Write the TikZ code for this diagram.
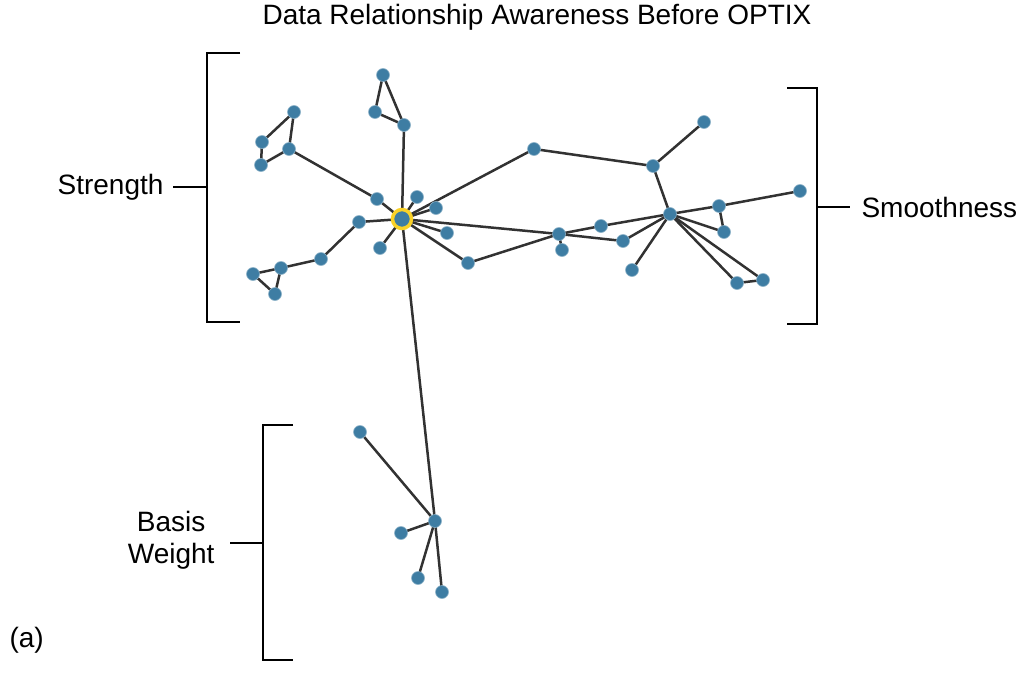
\documentclass[tikz,border=0pt]{standalone}
\usepackage{fontspec}
\setmainfont{Liberation Sans}
\begin{document}
\begin{tikzpicture}[x=1pt,y=-1pt,
  v/.style={circle,fill=dotc,draw=dotc!60,line width=0.6pt,inner sep=0pt,minimum size=13pt},
  hubs/.style={circle,fill=dotc,draw=hubring,line width=3.5pt,inner sep=0pt,minimum size=19pt},
  e/.style={draw=edgec,line width=2.5pt},
  br/.style={line width=2.5pt,black},
  lab/.style={font=\fontsize{28}{32}\selectfont,align=center}]
\definecolor{dotc}{RGB}{62,125,163}
\definecolor{hubring}{RGB}{250,210,40}
\definecolor{edgec}{RGB}{50,50,50}
\useasboundingbox (0,0) rectangle (1024,672);
\node[font=\fontsize{28}{32}\selectfont] (title) at (537,17) {Data Relationship Awareness Before OPTIX};
\node[anchor=west,font=\fontsize{28}{32}\selectfont] (a) at (6,640) {(a)};
% brackets
\draw[br] (240,53) -- (207,53) -- (207,322) -- (240,322);
\draw[br] (173,187) -- (207,187);
\node[lab,anchor=east] (st) at (167,187) {Strength};
\draw[br] (787,88) -- (817,88) -- (817,324) -- (787,324);
\draw[br] (817,207) -- (850,207);
\node[lab,anchor=west] (sm) at (858,207) {Smoothness};
\draw[br] (293,425) -- (263,425) -- (263,660) -- (293,660);
\draw[br] (230,543) -- (263,543);
\node[lab,anchor=east] (bw) at (218,540) {Basis\\Weight};
% nodes
\coordinate (H) at (402,219);
\coordinate (t1) at (383,75); \coordinate (t2) at (375,112); \coordinate (t3) at (404,125);
\coordinate (l1) at (294,112); \coordinate (l2) at (262,142); \coordinate (l3) at (261,165); \coordinate (l4) at (289,149);
\coordinate (n1) at (377,199); \coordinate (n2) at (417,197); \coordinate (n3) at (436,208); \coordinate (n4) at (447,233);
\coordinate (n5) at (380,248); \coordinate (n6) at (359,222); \coordinate (n7) at (468,263);
\coordinate (a1) at (321,259); \coordinate (b1) at (281,268); \coordinate (c1) at (253,274); \coordinate (d1) at (275,294);
\coordinate (r1) at (534,149); \coordinate (r2) at (653,166); \coordinate (r3) at (704,122); \coordinate (G) at (670,214);
\coordinate (r4) at (719,206); \coordinate (r5) at (800,191); \coordinate (r6) at (724,232);
\coordinate (m) at (559,234); \coordinate (m2) at (562,250); \coordinate (p) at (601,226); \coordinate (q) at (623,241);
\coordinate (s) at (632,270); \coordinate (u1) at (737,283); \coordinate (u2) at (763,280);
\coordinate (B) at (435,521); \coordinate (w1) at (360,432); \coordinate (w2) at (401,533); \coordinate (w3) at (418,578); \coordinate (w4) at (442,592);
% edges
\foreach \x/\y in {H/t3,t3/t1,t1/t2,t2/t3,H/n1,n1/l4,l4/l1,l1/l2,l2/l3,l3/l4,H/n2,H/n3,H/n4,H/n5,H/n6,n6/a1,a1/b1,b1/c1,c1/d1,d1/b1,
 H/n7,n7/m,H/r1,H/m,r1/r2,r2/r3,r2/G,G/r4,r4/r5,r4/r6,G/r6,G/p,p/m,m/m2,m/q,q/G,G/s,G/u1,G/u2,u1/u2,
 H/B,B/w1,B/w2,B/w3,B/w4}
  \draw[e] (\x) -- (\y);
\foreach \x in {t1,t2,t3,l1,l2,l3,l4,n1,n2,n3,n4,n5,n6,n7,a1,b1,c1,d1,r1,r2,r3,G,r4,r5,r6,m,m2,p,q,s,u1,u2,B,w1,w2,w3,w4}
  \node[v] (N\x) at (\x) {};
\node[hubs] (NH) at (H) {};
\end{tikzpicture}
\end{document}
